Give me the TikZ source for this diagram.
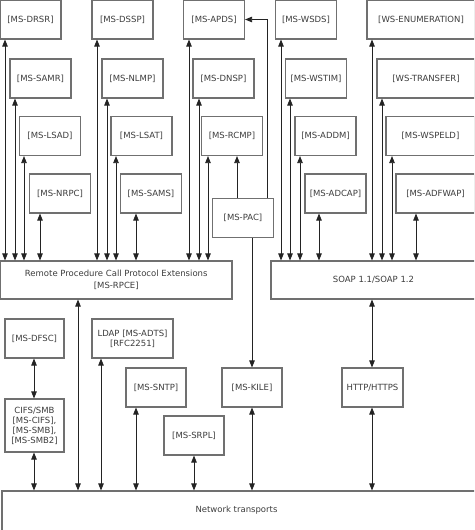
\documentclass[tikz,border=0pt]{standalone}
\usepackage{fontspec}
\setmainfont{DejaVu Sans}
\usetikzlibrary{arrows.meta}

\definecolor{ccbord}{RGB}{112,112,112}
\definecolor{cctext}{RGB}{60,60,60}
\definecolor{ccline}{RGB}{35,35,35}

\tikzset{
  proto/.style={draw=ccbord, line width=1.1pt, rectangle, minimum width=61pt, minimum height=39pt,
    inner sep=1pt, align=center, text=cctext, font=\fontsize{8.5}{10}\selectfont},
  both/.style={ccline, line width=0.8pt, {Triangle[length=7pt,width=5.5pt]}-{Triangle[length=7pt,width=5.5pt]}},
  one/.style={ccline, line width=0.8pt, -{Triangle[length=7pt,width=5.5pt]}},
}

\begin{document}
\begin{tikzpicture}[x=1pt, y=-1pt]

  % Bounding box of the scheme
  \useasboundingbox (0,0) rectangle (474,530);
  \clip (0,0) rectangle (474,530);

  %%%%%%%%%%%%%%%%%%%%%%%%%%%%%%%%% Protocols above RPC %%%%%%%%%%%%%%%%%%%%%%%%%%%%%%%%%%%%
  \draw (30.5,19.5) node[proto] (DRSR) {[MS-DRSR]} ;
  \draw (40.5,78.5) node[proto] (SAMR) {[MS-SAMR]} ;
  \draw (50,136) node[proto] (LSAD) {[MS-LSAD]} ;
  \draw (60,193.5) node[proto] (NRPC) {[MS-NRPC]} ;

  \draw (122.5,19.5) node[proto] (DSSP) {[MS-DSSP]} ;
  \draw (132.5,78.5) node[proto] (NLMP) {[MS-NLMP]} ;
  \draw (141.5,136) node[proto] (LSAT) {[MS-LSAT]} ;
  \draw (151,193.5) node[proto] (SAMS) {[MS-SAMS]} ;

  \draw (214,19.5) node[proto] (APDS) {[MS-APDS]} ;
  \draw (223.5,78.5) node[proto] (DNSP) {[MS-DNSP]} ;
  \draw (232,136) node[proto] (RCMP) {[MS-RCMP]} ;
  \draw (243,218) node[proto] (PAC) {[MS-PAC]} ;

  %%%%%%%%%%%%%%%%%%%%%%%%%%%%%%%%% Protocols above SOAP %%%%%%%%%%%%%%%%%%%%%%%%%%%%%%%%%%%
  \draw (306,19.5) node[proto] (WSDS) {[MS-WSDS]} ;
  \draw (316,78.5) node[proto] (WSTIM) {[MS-WSTIM]} ;
  \draw (325.5,136) node[proto] (ADDM) {[MS-ADDM]} ;
  \draw (335.5,193.5) node[proto] (ADCAP) {[MS-ADCAP]} ;

  \draw (421,19.5) node[proto, minimum width=108pt] (WSENUM) {[WS-ENUMERATION]} ;
  \draw (426,78.5) node[proto, minimum width=98pt] (WSTRANS) {[WS-TRANSFER]} ;
  \draw (430.5,136) node[proto, minimum width=89pt] (WSPELD) {[MS-WSPELD]} ;
  \draw (435.5,193.5) node[proto, minimum width=79pt] (ADFWAP) {[MS-ADFWAP]} ;

  %%%%%%%%%%%%%%%%%%%%%%%%%%%%%%%%% RPC and SOAP %%%%%%%%%%%%%%%%%%%%%%%%%%%%%%%%%%%%%%%%%%%
  \draw (116.25,280) node[proto, minimum width=231.5pt, minimum height=38pt, font=\fontsize{8.5}{12}\selectfont] (RPCE)
    {Remote Procedure Call Protocol Extensions\\{}[MS-RPCE]} ;
  \draw (373.5,280) node[proto, minimum width=205pt, minimum height=38pt] (SOAP) {SOAP 1.1/SOAP 1.2} ;

  %%%%%%%%%%%%%%%%%%%%%%%%%%%%%%%%% Lower protocols %%%%%%%%%%%%%%%%%%%%%%%%%%%%%%%%%%%%%%%%
  \draw (34.5,338.5) node[proto, minimum width=59pt] (DFSC) {[MS-DFSC]} ;
  \draw (34.5,425.5) node[proto, minimum width=59pt, minimum height=53pt] (CIFS)
    {CIFS/SMB\\{}[MS-CIFS],\\{}[MS-SMB],\\{}[MS-SMB2]} ;
  \draw (132.5,338.5) node[proto, minimum width=81pt] (LDAP) {LDAP [MS-ADTS]\\{}[RFC2251]} ;
  \draw (156,387.5) node[proto, minimum width=60pt] (SNTP) {[MS-SNTP]} ;
  \draw (194,435.5) node[proto, minimum width=60pt] (SRPL) {[MS-SRPL]} ;
  \draw (252,387.5) node[proto, minimum width=60pt] (KILE) {[MS-KILE]} ;
  \draw (372.5,387.5) node[proto] (HTTP) {HTTP/HTTPS} ;

  \draw (239,511.5) node[proto, minimum width=474pt, minimum height=41pt] (NET) {} ;
  \draw (236.5,510) node[text=cctext, font=\fontsize{8.5}{10}\selectfont] (NETtxt) {Network transports} ;

  %%%%%%%%%%%%%%%%%%%%%%%%%%%%%%%%% Links to RPC %%%%%%%%%%%%%%%%%%%%%%%%%%%%%%%%%%%%%%%%%%%
  \draw[both] (DRSR.south -| 5,0) -- (RPCE.north -| 5,0) ;
  \draw[both] (SAMR.south -| 15,0) -- (RPCE.north -| 15,0) ;
  \draw[both] (LSAD.south -| 24,0) -- (RPCE.north -| 24,0) ;
  \draw[both] (NRPC.south -| 40,0) -- (RPCE.north -| 40,0) ;
  \draw[both] (DSSP.south -| 97,0) -- (RPCE.north -| 97,0) ;
  \draw[both] (NLMP.south -| 107,0) -- (RPCE.north -| 107,0) ;
  \draw[both] (LSAT.south -| 116,0) -- (RPCE.north -| 116,0) ;
  \draw[both] (SAMS.south -| 136,0) -- (RPCE.north -| 136,0) ;
  \draw[both] (APDS.south -| 189,0) -- (RPCE.north -| 189,0) ;
  \draw[both] (DNSP.south -| 199,0) -- (RPCE.north -| 199,0) ;
  \draw[both] (RCMP.south -| 208,0) -- (RPCE.north -| 208,0) ;

  % PAC
  \draw[one] (PAC.north -| 237,0) -- (RCMP.south -| 237,0) ;
  \draw[one] (PAC.north -| 267,0) |- (APDS.east) ;
  \draw[one] (PAC.south -| 252,0) -- (KILE.north -| 252,0) ;

  %%%%%%%%%%%%%%%%%%%%%%%%%%%%%%%%% Links to SOAP %%%%%%%%%%%%%%%%%%%%%%%%%%%%%%%%%%%%%%%%%%
  \draw[both] (WSDS.south -| 281,0) -- (SOAP.north -| 281,0) ;
  \draw[both] (WSTIM.south -| 290,0) -- (SOAP.north -| 290,0) ;
  \draw[both] (ADDM.south -| 300,0) -- (SOAP.north -| 300,0) ;
  \draw[both] (ADCAP.south -| 319,0) -- (SOAP.north -| 319,0) ;
  \draw[both] (WSENUM.south -| 372,0) -- (SOAP.north -| 372,0) ;
  \draw[both] (WSTRANS.south -| 382,0) -- (SOAP.north -| 382,0) ;
  \draw[both] (WSPELD.south -| 392,0) -- (SOAP.north -| 392,0) ;
  \draw[both] (ADFWAP.south -| 416,0) -- (SOAP.north -| 416,0) ;

  %%%%%%%%%%%%%%%%%%%%%%%%%%%%%%%%% Links to transports %%%%%%%%%%%%%%%%%%%%%%%%%%%%%%%%%%%%
  \draw[both] (DFSC.south -| 34,0) -- (CIFS.north -| 34,0) ;
  \draw[both] (CIFS.south -| 34,0) -- (NET.north -| 34,0) ;
  \draw[both] (RPCE.south -| 78,0) -- (NET.north -| 78,0) ;
  \draw[both] (LDAP.south -| 101,0) -- (NET.north -| 101,0) ;
  \draw[both] (SNTP.south -| 136,0) -- (NET.north -| 136,0) ;
  \draw[both] (SRPL.south -| 194,0) -- (NET.north -| 194,0) ;
  \draw[both] (KILE.south -| 252,0) -- (NET.north -| 252,0) ;
  \draw[both] (SOAP.south -| 372,0) -- (HTTP.north -| 372,0) ;
  \draw[both] (HTTP.south -| 372,0) -- (NET.north -| 372,0) ;

\end{tikzpicture}
\end{document}
